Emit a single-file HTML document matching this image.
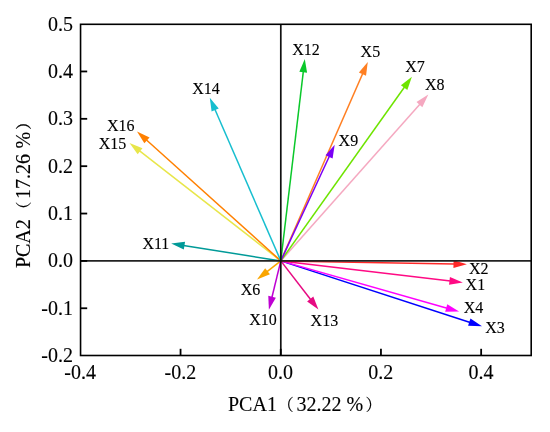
<!DOCTYPE html>
<html><head><meta charset="utf-8"><style>
html,body{margin:0;padding:0;background:#fff;}
svg{display:block;}
text{font-family:"Liberation Serif","Noto Serif CJK SC",serif;fill:#000;stroke:#000;stroke-width:0.12px;}
</style></head><body>
<svg width="550" height="432" viewBox="0 0 550 432">
<rect width="550" height="432" fill="#fff"/>
<g stroke-width="1.5" fill="none">
<line x1="280.8" y1="260.9" x2="139.28" y2="150.62" stroke="#E8E64A"/>
<polygon points="129.50,143.00 142.47,148.16 137.67,154.31" fill="#E8E64A"/>
<line x1="280.8" y1="260.9" x2="146.21" y2="139.70" stroke="#FF8000"/>
<polygon points="137.00,131.40 149.57,137.47 144.35,143.27" fill="#FF8000"/>
<line x1="280.8" y1="260.9" x2="214.75" y2="109.07" stroke="#17BECF"/>
<polygon points="209.80,97.70 218.72,108.43 211.57,111.54" fill="#17BECF"/>
<line x1="280.8" y1="260.9" x2="183.45" y2="245.44" stroke="#009A98"/>
<polygon points="171.20,243.50 185.05,241.75 183.82,249.45" fill="#009A98"/>
<line x1="280.8" y1="260.9" x2="266.77" y2="271.86" stroke="#FAA500"/>
<polygon points="257.00,279.50 265.16,268.18 269.96,274.32" fill="#FAA500"/>
<line x1="280.8" y1="260.9" x2="271.83" y2="297.75" stroke="#BE00D2"/>
<polygon points="268.90,309.80 268.28,295.86 275.86,297.70" fill="#BE00D2"/>
<line x1="280.8" y1="260.9" x2="310.82" y2="299.78" stroke="#E60A82"/>
<polygon points="318.40,309.60 307.12,301.38 313.30,296.61" fill="#E60A82"/>
<line x1="280.8" y1="260.9" x2="470.21" y2="322.47" stroke="#0000FF"/>
<polygon points="482.00,326.30 468.05,325.87 470.46,318.45" fill="#0000FF"/>
<line x1="280.8" y1="260.9" x2="447.17" y2="308.21" stroke="#FF00FF"/>
<polygon points="459.10,311.60 445.14,311.69 447.28,304.18" fill="#FF00FF"/>
<line x1="280.8" y1="260.9" x2="450.49" y2="281.04" stroke="#FF0A84"/>
<polygon points="462.80,282.50 449.03,284.79 449.95,277.05" fill="#FF0A84"/>
<line x1="280.8" y1="260.9" x2="454.50" y2="264.07" stroke="#FF2828"/>
<polygon points="466.90,264.30 453.43,267.95 453.57,260.16" fill="#FF2828"/>
<line x1="280.8" y1="260.9" x2="420.07" y2="103.88" stroke="#F5A8C0"/>
<polygon points="428.30,94.60 422.33,107.21 416.49,102.04" fill="#F5A8C0"/>
<line x1="280.8" y1="260.9" x2="404.71" y2="86.80" stroke="#6EE400"/>
<polygon points="411.90,76.70 407.31,89.88 400.95,85.36" fill="#6EE400"/>
<line x1="280.8" y1="260.9" x2="362.83" y2="73.26" stroke="#FF7F22"/>
<polygon points="367.80,61.90 366.01,75.74 358.86,72.62" fill="#FF7F22"/>
<line x1="280.8" y1="260.9" x2="329.48" y2="156.05" stroke="#7A00F5"/>
<polygon points="334.70,144.80 332.59,158.60 325.52,155.31" fill="#7A00F5"/>
<line x1="280.8" y1="260.9" x2="303.34" y2="71.31" stroke="#0AC82A"/>
<polygon points="304.80,59.00 307.09,72.77 299.35,71.85" fill="#0AC82A"/>
</g>
<line x1="80.5" y1="260.9" x2="531.2" y2="260.9" stroke="#222" stroke-width="1.9"/>
<line x1="280.8" y1="24.3" x2="280.8" y2="355.5" stroke="#111" stroke-width="1.7"/>
<rect x="80.55" y="24.3" width="450.65" height="331.2" fill="none" stroke="#000" stroke-width="1.6"/>
<g stroke="#000" stroke-width="1.8">
<line x1="80.5" y1="71.46" x2="87.2" y2="71.46"/>
<line x1="80.5" y1="118.82" x2="87.2" y2="118.82"/>
<line x1="80.5" y1="166.18" x2="87.2" y2="166.18"/>
<line x1="80.5" y1="213.54" x2="87.2" y2="213.54"/>
<line x1="80.5" y1="260.90" x2="87.2" y2="260.90"/>
<line x1="80.5" y1="308.26" x2="87.2" y2="308.26"/>
<line x1="180.55" y1="355.5" x2="180.55" y2="348.8"/>
<line x1="280.75" y1="355.5" x2="280.75" y2="348.8"/>
<line x1="380.95" y1="355.5" x2="380.95" y2="348.8"/>
<line x1="481.15" y1="355.5" x2="481.15" y2="348.8"/>
</g>
<g font-size="20">
<text x="73" y="30.50" text-anchor="end">0.5</text>
<text x="73" y="77.86" text-anchor="end">0.4</text>
<text x="73" y="125.22" text-anchor="end">0.3</text>
<text x="73" y="172.58" text-anchor="end">0.2</text>
<text x="73" y="219.94" text-anchor="end">0.1</text>
<text x="73" y="267.30" text-anchor="end">0.0</text>
<text x="73" y="314.66" text-anchor="end">-0.1</text>
<text x="73" y="362.02" text-anchor="end">-0.2</text>
<text x="80.15" y="379.2" text-anchor="middle">-0.4</text>
<text x="180.35" y="379.2" text-anchor="middle">-0.2</text>
<text x="280.55" y="379.2" text-anchor="middle">0.0</text>
<text x="380.75" y="379.2" text-anchor="middle">0.2</text>
<text x="480.95" y="379.2" text-anchor="middle">0.4</text>
<text y="411.0" font-size="20"><tspan x="228.0">PCA1</tspan><tspan x="277.4" dy="-1.2" font-size="16.3">（</tspan><tspan x="296.4" dy="1.2">32.22 %</tspan><tspan x="365.4" dy="-1.2" font-size="16.3">）</tspan></text>
<text transform="translate(30.1,268.1) rotate(-90)" y="0" font-size="20"><tspan x="0">PCA2</tspan><tspan x="50.3" dy="-1.2" font-size="16.3">（</tspan><tspan x="69.2" dy="1.2">17.26 </tspan><tspan x="119.5">%</tspan><tspan x="138" dy="-1.2" font-size="16.3">）</tspan></text>
</g>
<g font-size="16">
<text x="465.6" y="290.1">X1</text>
<text x="468.9" y="274.1">X2</text>
<text x="485.2" y="332.5">X3</text>
<text x="463.8" y="313.0">X4</text>
<text x="360.6" y="57.1">X5</text>
<text x="240.7" y="294.6">X6</text>
<text x="405.2" y="72.2">X7</text>
<text x="424.9" y="90.4">X8</text>
<text x="338.6" y="146.1">X9</text>
<text x="249.2" y="325.4">X10</text>
<text x="142.4" y="248.8">X11</text>
<text x="292.2" y="55.1">X12</text>
<text x="310.6" y="326.1">X13</text>
<text x="192.2" y="94.3">X14</text>
<text x="98.8" y="148.7">X15</text>
<text x="107.0" y="130.9">X16</text>
</g>
</svg>
</body></html>
